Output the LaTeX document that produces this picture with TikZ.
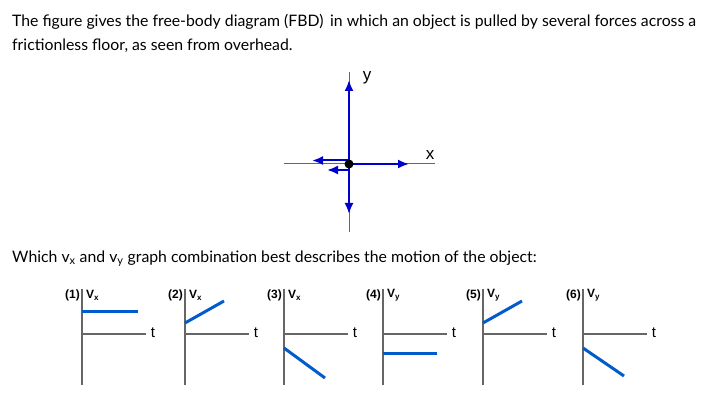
\documentclass[tikz,border=0pt]{standalone}
\usepackage{fontspec}
\setmainfont{Lato}
\newfontfamily\arialf{Liberation Sans}
\usetikzlibrary{arrows.meta}
\begin{document}
\begin{tikzpicture}[x=1pt,y=-1pt,
  ax/.style={draw=gray!80!black,line width=1.3pt},
  bl/.style={draw=blue!55!cyan!80!black,line width=3pt},
  fb/.style={draw=blue!80!black,line width=2pt,-{Latex[length=11pt,width=9pt]}},
  txt/.style={anchor=west,inner sep=0pt,font=\fontsize{15.8pt}{19pt}\selectfont},
  lab/.style={inner sep=0pt,font=\arialf\fontsize{12pt}{14pt}\selectfont\bfseries}]
\useasboundingbox (0,0) rectangle (718,403);
\node[txt] (t1) at (12,22) {The figure gives the free-body diagram (FBD)\, in which an object is pulled by several forces across a};
\node[txt] (t2) at (12,46) {frictionless floor, as seen from overhead.};
\node[txt] (t3) at (12,259) {Which v$_\mathrm{x}$ and v$_\mathrm{y}$ graph combination best describes the motion of the object:};
% FBD
\coordinate (o) at (349,164);
\draw[ax,line width=1pt] (349,72) -- (349,232);
\draw[ax,line width=1pt] (284,164) -- (435,164);
\draw[fb] (o) -- (349,80);
\draw[fb] (o) -- (349,214);
\draw[fb] (o) -- (409,164);
\draw[fb] (349,160.5) -- (312,160.5);
\draw[fb] (349,170) -- (327,170);
\fill (o) circle (4.5);
\node[inner sep=0pt,font=\arialf\fontsize{17pt}{20pt}\selectfont] (ly) at (367,78) {y};
\node[inner sep=0pt,font=\arialf\fontsize{17pt}{20pt}\selectfont] (lx) at (430,155) {x};
% graphs
\foreach \i/\xx/\v in {1/82/x,2/185/x,3/284/x,4/383/y,5/483/y,6/583/y}{
  \draw[ax] (\xx,289) -- (\xx,385);
  \draw[ax] (\xx,334) -- (\xx+64,334);
  \node[inner sep=0pt,font=\arialf\fontsize{15pt}{18pt}\selectfont] (t\i) at (\xx+71,333) {t};
  \node[lab,anchor=east] (n\i) at (\xx-2,295) {(\i)};
  \node[lab,anchor=west] (v\i) at (\xx+4,295) {V\textsubscript{\v}};
}
\draw[bl] (82,312) -- (138,312);
\draw[bl] (185,323) -- (224,301);
\draw[bl] (284,348) -- (325,378);
\draw[bl] (383,354) -- (437,354);
\draw[bl] (483,323) -- (522,301);
\draw[bl] (583,348) -- (624,376);
\end{tikzpicture}
\end{document}
